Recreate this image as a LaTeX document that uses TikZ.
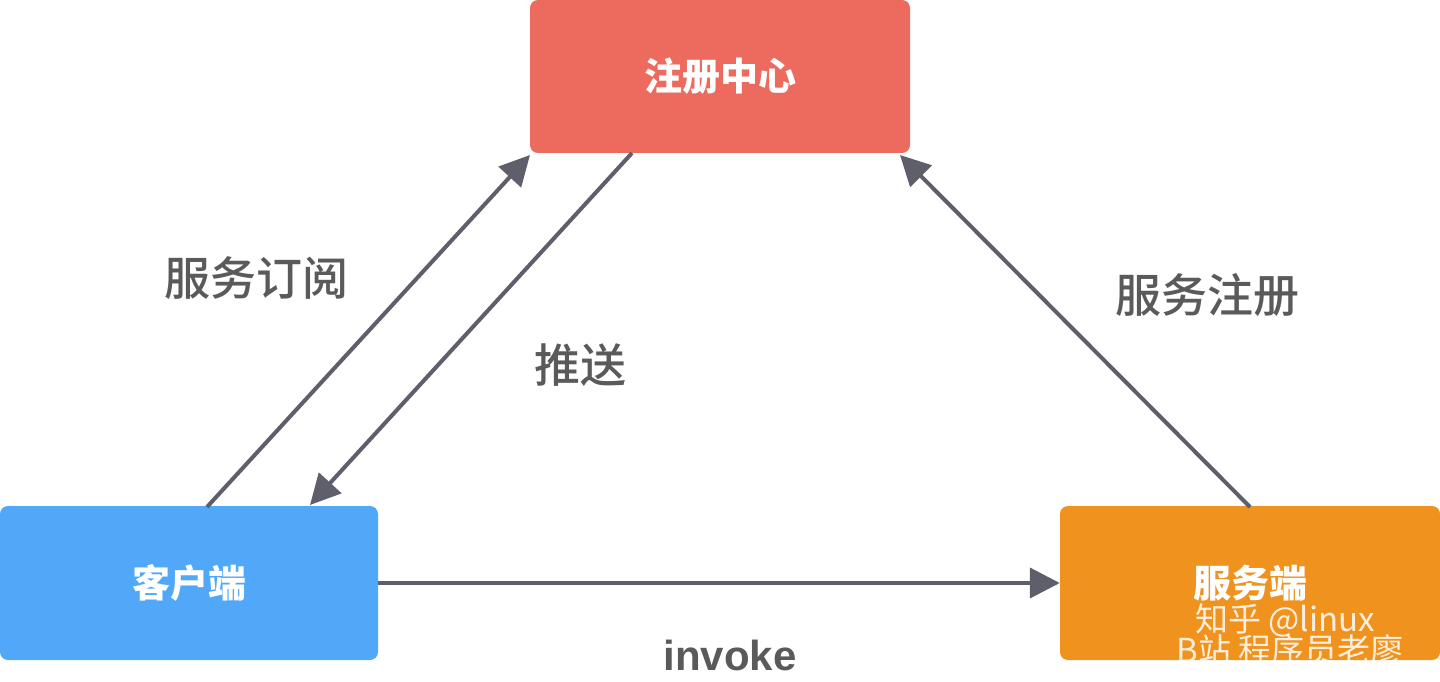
\documentclass[tikz,border=0pt]{standalone}
\usepackage{fontspec}
\newfontfamily\cjk{Noto Sans CJK SC}
\newfontfamily\cjkm{Noto Sans CJK SC Medium}
\newfontfamily\lat{Liberation Sans}
\usetikzlibrary{arrows.meta}
\definecolor{regred}{HTML}{EC6B5E}
\definecolor{cliblue}{HTML}{52A8F8}
\definecolor{srvorange}{HTML}{F0921E}
\definecolor{arrgray}{HTML}{5F5F6B}
\definecolor{labgray}{HTML}{5A5A5A}
\begin{document}
\begin{tikzpicture}[x=1pt,y=-1pt,
  box/.style={rounded corners=8pt,inner sep=0pt,font=\cjk\fontsize{38}{42}\selectfont\bfseries,text=white},
  conn/.style={draw=arrgray,line width=4pt,-{Triangle[length=30pt,width=30pt]}},
  lab/.style={font=\cjkm\fontsize{46}{50}\selectfont,text=labgray},
  wm/.style={font=\cjk\fontsize{33}{36}\selectfont,text=white,opacity=0.85}]
\useasboundingbox (0,0) rectangle (1440,682);
\node[box,fill=regred,minimum width=380pt,minimum height=153pt] (reg) at (720,76.5) {注册中心};
\node[box,fill=cliblue,minimum width=378pt,minimum height=154pt] (cli) at (189,583) {客户端};
\node[box,fill=srvorange,minimum width=380pt,minimum height=154pt] (srv) at (1250,583) {服务端};
\coordinate (s1) at (207,507); \coordinate (s2) at (530,155);
\coordinate (p1) at (632,153); \coordinate (p2) at (310,505);
\coordinate (r1) at (1250,507); \coordinate (r2) at (900,155);
\draw[conn] (s1) -- (s2);
\draw[conn] (p1) -- (p2);
\draw[conn] (r1) -- (r2);
\draw[conn] (cli.east) -- (srv.west);
\node[lab] (l1) at (256,278) {服务订阅};
\node[lab] (l2) at (580,365) {推送};
\node[lab] (l3) at (1207,295) {服务注册};
\node[lab,font=\lat\fontsize{42}{46}\selectfont\bfseries] (l4) at (730,655) {invoke};
\node[wm] (w1) at (1285,620) {知乎 @linux};
\node[wm] (w2) at (1290,650) {B站 程序员老廖};
\end{tikzpicture}
\end{document}
